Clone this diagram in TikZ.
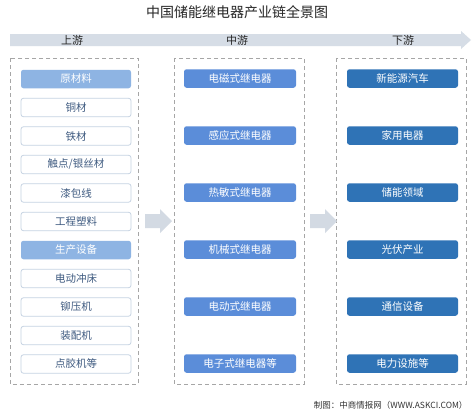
\documentclass[tikz,border=0pt]{standalone}
\usepackage{fontspec}
\setmainfont{Noto Sans CJK SC}
\usetikzlibrary{shapes.arrows}
\definecolor{hdrL}{HTML}{8EB4E3}
\definecolor{midB}{HTML}{5B8DD9}
\definecolor{rgtB}{HTML}{2F73B6}
\definecolor{wbord}{HTML}{C6D3E2}
\definecolor{wtext}{HTML}{3E5A80}
\definecolor{banner}{HTML}{D6DDE6}
\definecolor{dash}{HTML}{A6A6A6}
\definecolor{garrow}{HTML}{D3DAE3}
\tikzset{
  base/.style={rounded corners=2.5pt, minimum height=18.5pt, inner sep=0pt, font=\fontsize{10.5}{12}\selectfont},
  hdr/.style={base, fill=hdrL, text=white, minimum width=110pt},
  item/.style={base, draw=wbord, line width=0.8pt, fill=white, text=wtext, minimum width=110pt},
  mid/.style={base, fill=midB, text=white, minimum width=112pt},
  rgt/.style={base, fill=rgtB, text=white, minimum width=111pt},
  dbox/.style={draw=dash, dashed, dash pattern=on 4pt off 3pt, line width=0.7pt},
  stage/.style={font=\fontsize{11}{12}\selectfont, text=black!85}
}
\begin{document}
\begin{tikzpicture}[x=1pt,y=-1pt]
\useasboundingbox (0,0) rectangle (474,416);
\fill[white] (0,0) rectangle (474,416);
% title
\node[font=\fontsize{14}{16}\selectfont, text=black!85] (title) at (237,12) {中国储能继电器产业链全景图};
% banner arrow
\fill[banner] (10,34) -- (461,34) -- (461,31) -- (471,40) -- (461,49) -- (461,46) -- (10,46) -- cycle;
\node[stage] (up) at (72,40) {上游};
\node[stage] (md) at (237,40) {中游};
\node[stage] (dn) at (403,40) {下游};
% dashed boxes
\draw[dbox] (10,58) rectangle (138,384);
\draw[dbox] (174,58) rectangle (304,384);
\draw[dbox] (336,58) rectangle (466,384);
% left column
\node[hdr]  (l1)  at (76,79)    {原材料};
\node[item] (l2)  at (76,107.5) {铜材};
\node[item] (l3)  at (76,136)   {铁材};
\node[item] (l4)  at (76,164.5) {触点/银丝材};
\node[item] (l5)  at (76,193)   {漆包线};
\node[item] (l6)  at (76,221.5) {工程塑料};
\node[hdr]  (l7)  at (76,250)   {生产设备};
\node[item] (l8)  at (76,278.5) {电动冲床};
\node[item] (l9)  at (76,307)   {铆压机};
\node[item] (l10) at (76,335.5) {装配机};
\node[item] (l11) at (76,364)   {点胶机等};
% middle column
\node[mid] (m1) at (240,78.5)  {电磁式继电器};
\node[mid] (m2) at (240,135.5) {感应式继电器};
\node[mid] (m3) at (240,192.5) {热敏式继电器};
\node[mid] (m4) at (240,249.5) {机械式继电器};
\node[mid] (m5) at (240,306.5) {电动式继电器};
\node[mid] (m6) at (240,363.5) {电子式继电器等};
% right column
\node[rgt] (r1) at (402.5,78.5)  {新能源汽车};
\node[rgt] (r2) at (402.5,135.5) {家用电器};
\node[rgt] (r3) at (402.5,192.5) {储能领域};
\node[rgt] (r4) at (402.5,249.5) {光伏产业};
\node[rgt] (r5) at (402.5,306.5) {通信设备};
\node[rgt] (r6) at (402.5,363.5) {电力设施等};
% gray arrows between columns
\fill[garrow] (145,214) -- (160,214) -- (160,209) -- (172,221) -- (160,233) -- (160,228) -- (145,228) -- cycle;
\fill[garrow] (310,214) -- (325,214) -- (325,209) -- (337,221) -- (325,233) -- (325,228) -- (310,228) -- cycle;
% footer
\node[anchor=east, font=\fontsize{8.5}{10}\selectfont, text=black!80] (src) at (471,405) {制图：中商情报网（WWW.ASKCI.COM）};
\end{tikzpicture}
\end{document}
